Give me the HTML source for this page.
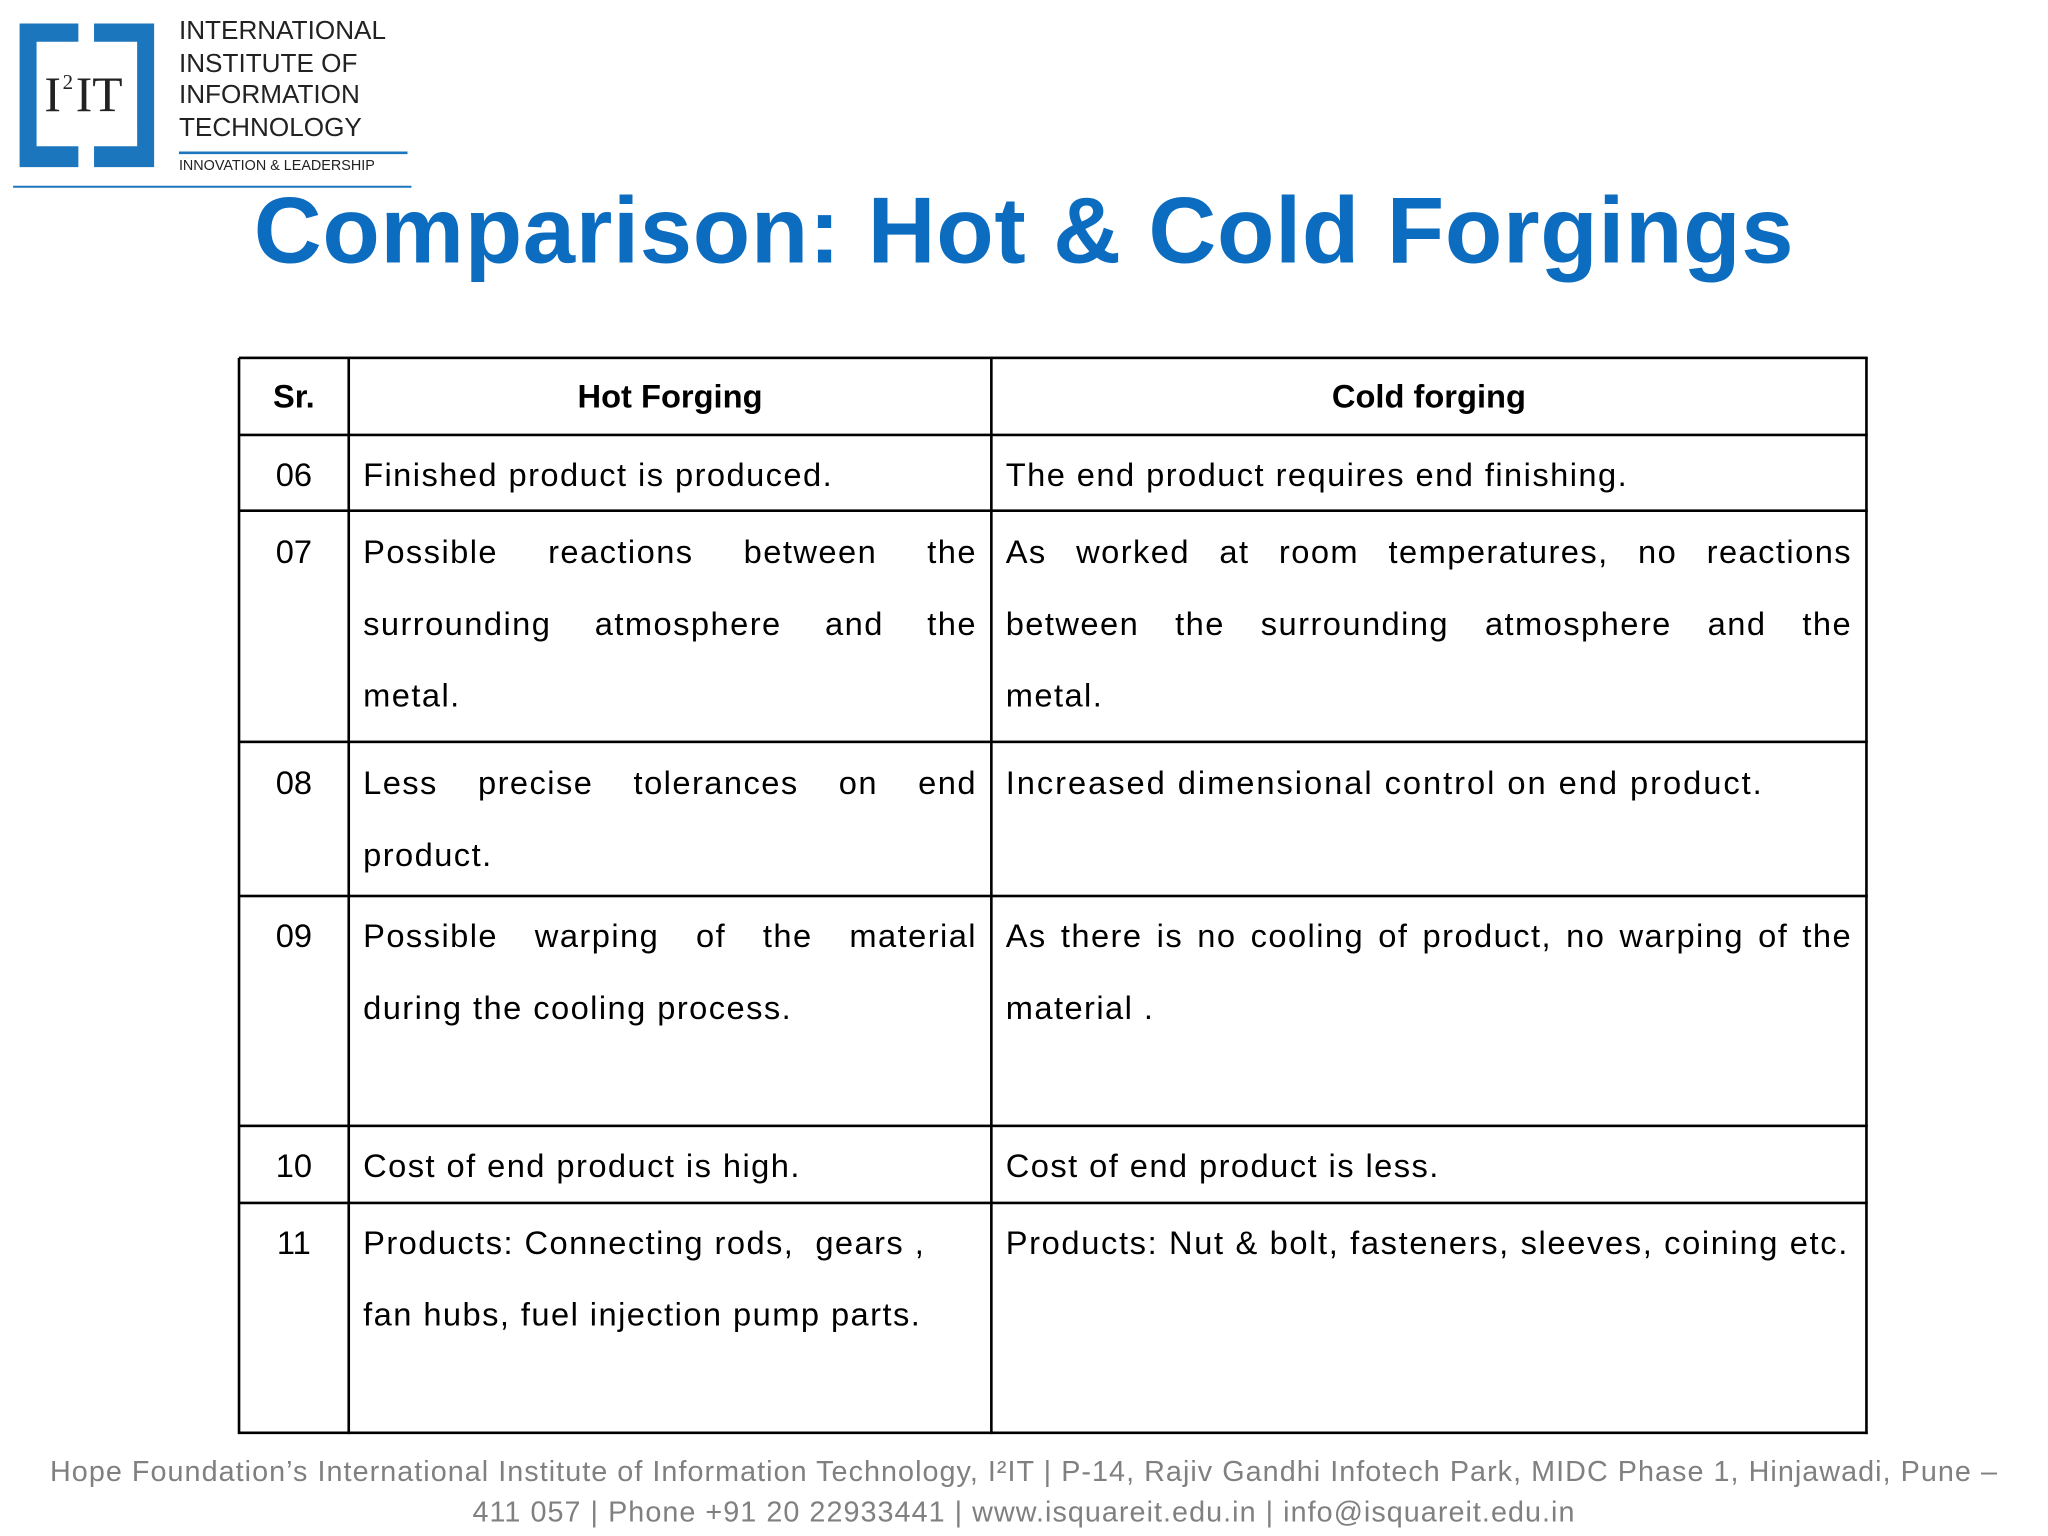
<!DOCTYPE html>
<html><head><meta charset="utf-8"><style>
html,body{margin:0;padding:0;background:#fff;}
#wrap{position:absolute;left:0;top:0;width:1568px;height:1176px;transform:scale(1.306122);transform-origin:0 0;font-family:"Liberation Sans",sans-serif;overflow:hidden;}
.abs{position:absolute;}
.title{left:0;width:1568px;top:136px;text-align:center;font-size:72px;font-weight:bold;color:#0b6cc0;letter-spacing:0.5px;}
.hline{position:absolute;left:183px;width:1247px;height:2px;background:#000;}
.vline{position:absolute;top:274px;height:824px;width:2px;background:#000;}
.cell{position:absolute;font-size:25px;letter-spacing:1.1px;line-height:55px;color:#000;box-sizing:border-box;padding:0 11px;text-align:left;white-space:nowrap;}
.cell .j{text-align:justify;text-align-last:justify;white-space:normal;}
.hdr{position:absolute;font-size:25px;font-weight:bold;text-align:center;top:290px;}
.sr{position:absolute;left:183px;width:84px;text-align:center;font-size:25px;line-height:55px;}
.foot{left:0;width:1568px;text-align:center;color:#808080;font-size:22px;letter-spacing:0.8px;line-height:31px;top:1111px;white-space:nowrap;}
</style></head><body>
<div id="wrap">
<div class="abs" style="left:10px;top:10px;width:310px;height:135px;">
 <svg width="310" height="135">
  <path d="M5 8 H50 V22 H18 V102 H50 V118 H5 Z" fill="#1b76bd"/>
  <path d="M62 8 H108 V118 H62 V102 H95 V22 H62 Z" fill="#1b76bd"/>
  <text x="24" y="75" font-family="Liberation Serif" font-size="38" fill="#222">I</text>
  <text x="38" y="58" font-family="Liberation Serif" font-size="16" fill="#222">2</text>
  <text x="48" y="75" font-family="Liberation Serif" font-size="38" fill="#222">IT</text>
  <line x1="0" y1="133" x2="305" y2="133" stroke="#1b76bd" stroke-width="1.5"/>
 </svg>
 <div class="abs" style="left:127px;top:2px;font-size:20px;line-height:24.5px;color:#222;">INTERNATIONAL<br>INSTITUTE OF<br>INFORMATION<br>TECHNOLOGY</div>
 <div class="abs" style="left:127px;top:106px;font-size:11px;color:#222;border-top:2px solid #1b76bd;padding-top:3px;width:175px;">INNOVATION &amp; LEADERSHIP</div>
</div>
<div class="abs title">Comparison: Hot &amp; Cold Forgings</div>

<div>
<div class="hline" style="top:273px"></div>
<div class="hline" style="top:332px"></div>
<div class="hline" style="top:390px"></div>
<div class="hline" style="top:567px"></div>
<div class="hline" style="top:685px"></div>
<div class="hline" style="top:861px"></div>
<div class="hline" style="top:920px"></div>
<div class="hline" style="top:1096px"></div>
<div class="vline" style="left:182px"></div>
<div class="vline" style="left:266px"></div>
<div class="vline" style="left:758px"></div>
<div class="vline" style="left:1428px"></div>

<div class="hdr" style="left:183px;width:84px;">Sr.</div>
<div class="hdr" style="left:267px;width:492px;">Hot Forging</div>
<div class="hdr" style="left:759px;width:670px;">Cold forging</div>

<div class="sr" style="top:337px">06</div>
<div class="cell" style="left:267px;width:492px;top:337px">Finished product is produced.</div>
<div class="cell" style="left:759px;width:670px;top:337px">The end product requires end finishing.</div>

<div class="sr" style="top:396px">07</div>
<div class="cell" style="left:267px;width:492px;top:396px"><div class="j">Possible reactions between the</div><div class="j">surrounding atmosphere and the</div><div>metal.</div></div>
<div class="cell" style="left:759px;width:670px;top:396px"><div class="j">As worked at room temperatures, no reactions</div><div class="j">between the surrounding atmosphere and the</div><div>metal.</div></div>

<div class="sr" style="top:573px">08</div>
<div class="cell" style="left:267px;width:492px;top:573px"><div class="j">Less precise tolerances on end</div><div>product.</div></div>
<div class="cell" style="left:759px;width:670px;top:573px;letter-spacing:1.5px">Increased dimensional control on end product.</div>

<div class="sr" style="top:690px">09</div>
<div class="cell" style="left:267px;width:492px;top:690px"><div class="j">Possible warping of the material</div><div>during the cooling process.</div></div>
<div class="cell" style="left:759px;width:670px;top:690px"><div class="j">As there is no cooling of product, no warping of the</div><div>material .</div></div>

<div class="sr" style="top:866px">10</div>
<div class="cell" style="left:267px;width:492px;top:866px">Cost of end product is high.</div>
<div class="cell" style="left:759px;width:670px;top:866px">Cost of end product is less.</div>

<div class="sr" style="top:925px">11</div>
<div class="cell" style="left:267px;width:492px;top:925px">Products: Connecting rods,&nbsp; gears ,<br>fan hubs, fuel injection pump parts.</div>
<div class="cell" style="left:759px;width:670px;top:925px;letter-spacing:1.25px">Products: Nut &amp; bolt, fasteners, sleeves, coining etc.</div>
</div>

<div class="abs foot">Hope Foundation’s International Institute of Information Technology, I²IT | P-14, Rajiv Gandhi Infotech Park, MIDC Phase 1, Hinjawadi, Pune –<br>411 057 | Phone +91 20 22933441 | www.isquareit.edu.in | info@isquareit.edu.in</div>
</div>
</body></html>
